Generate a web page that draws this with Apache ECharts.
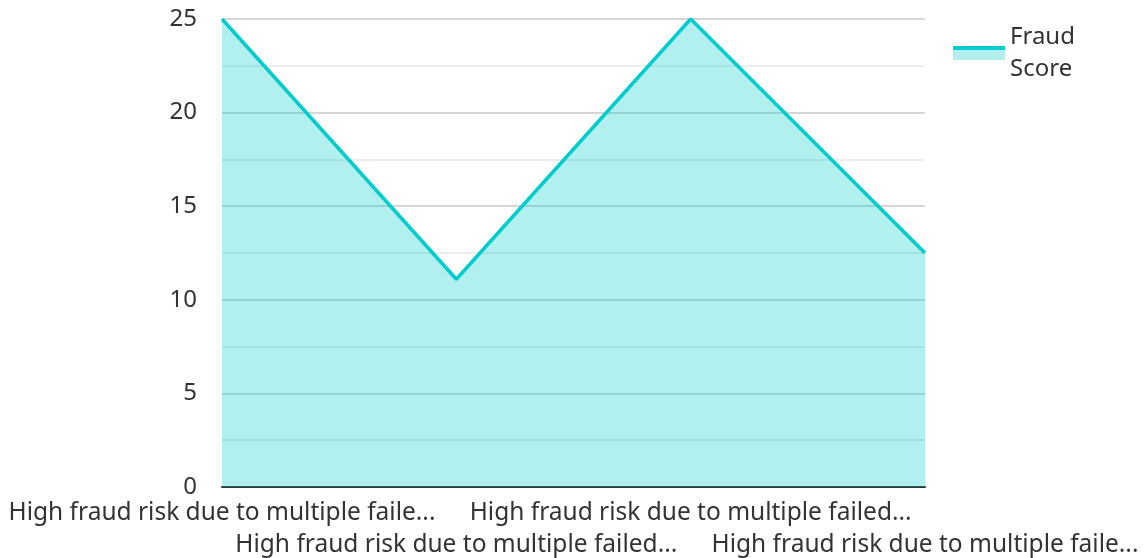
<!DOCTYPE html>
<html>
<head>
<meta charset="utf-8">
<script src="https://cdn.jsdelivr.net/npm/echarts@6/dist/echarts.min.js"></script>
<style>
  html, body { margin: 0; padding: 0; background: #fff; }
  #chart { width: 1144px; height: 558px; }
</style>
</head>
<body>
<div id="chart"></div>
<script>
const categories = [
  'High fraud risk due to multiple faile...',
  'High fraud risk due to multiple failed...',
  'High fraud risk due to multiple failed...',
  'High fraud risk due to multiple faile...'
]
const fraudScore = [25, 11.1, 25, 12.5]
const seriesName = 'Fraud Score'

const lineColor = '#00cccc'
const font = 'Noto Sans'

const chart = echarts.init(document.getElementById('chart'))
const option = {
  backgroundColor: '#fff',
  animation: false,
  grid: {
    left: 222,
    right: 219,
    top: 19,
    bottom: 71,
    outerBoundsMode: 'none'
  },
  legend: {
    left: 948,
    top: 17,
    icon: 'rect',
    itemWidth: 52,
    itemHeight: 14,
    itemGap: 10,
    formatter: name => name.replace(' ', '\n'),
    itemStyle: {
      borderWidth: 0,
      color: {
        type: 'linear', x: 0, y: 0, x2: 0, y2: 1,
        colorStops: [
          { offset: 0, color: lineColor },
          { offset: 0.28, color: lineColor },
          { offset: 0.28, color: '#b2efee' },
          { offset: 1, color: '#b2efee' }
        ]
      }
    },
    textStyle: {
      fontFamily: font,
      fontSize: 24,
      lineHeight: 32,
      color: '#333',
      verticalAlign: 'top',
      padding: [-2, 0, 0, 0]
    }
  },
  xAxis: {
    type: 'category',
    data: categories,
    boundaryGap: false,
    axisLine: { lineStyle: { color: '#333', width: 2 } },
    axisTick: { show: false },
    axisLabel: {
      interval: 0,
      margin: 10,
      fontFamily: font,
      fontSize: 24.5,
      lineHeight: 32,
      color: '#333',
      verticalAlign: 'top',
      formatter: (v, i) => (i % 2 ? '\n' + v : v)
    }
  },
  yAxis: {
    type: 'value',
    min: 0,
    max: 25,
    interval: 5,
    axisLine: { show: false },
    axisTick: { show: false },
    axisLabel: {
      margin: 25,
      fontFamily: font,
      fontSize: 24,
      color: '#333'
    },
    splitLine: { lineStyle: { color: '#c8c8c8', width: 1.5 } },
    minorTick: { show: false, splitNumber: 2 },
    minorSplitLine: { show: true, lineStyle: { color: '#e8e8e8', width: 1.5 } }
  },
  series: [
    {
      name: seriesName,
      type: 'line',
      data: fraudScore,
      showSymbol: false,
      lineStyle: { color: lineColor, width: 3.5 },
      itemStyle: { color: lineColor },
      areaStyle: { color: lineColor, opacity: 0.3 }
    }
  ]
}
chart.setOption(option)
window.addEventListener('resize', () => chart.resize())
</script>
</body>
</html>
